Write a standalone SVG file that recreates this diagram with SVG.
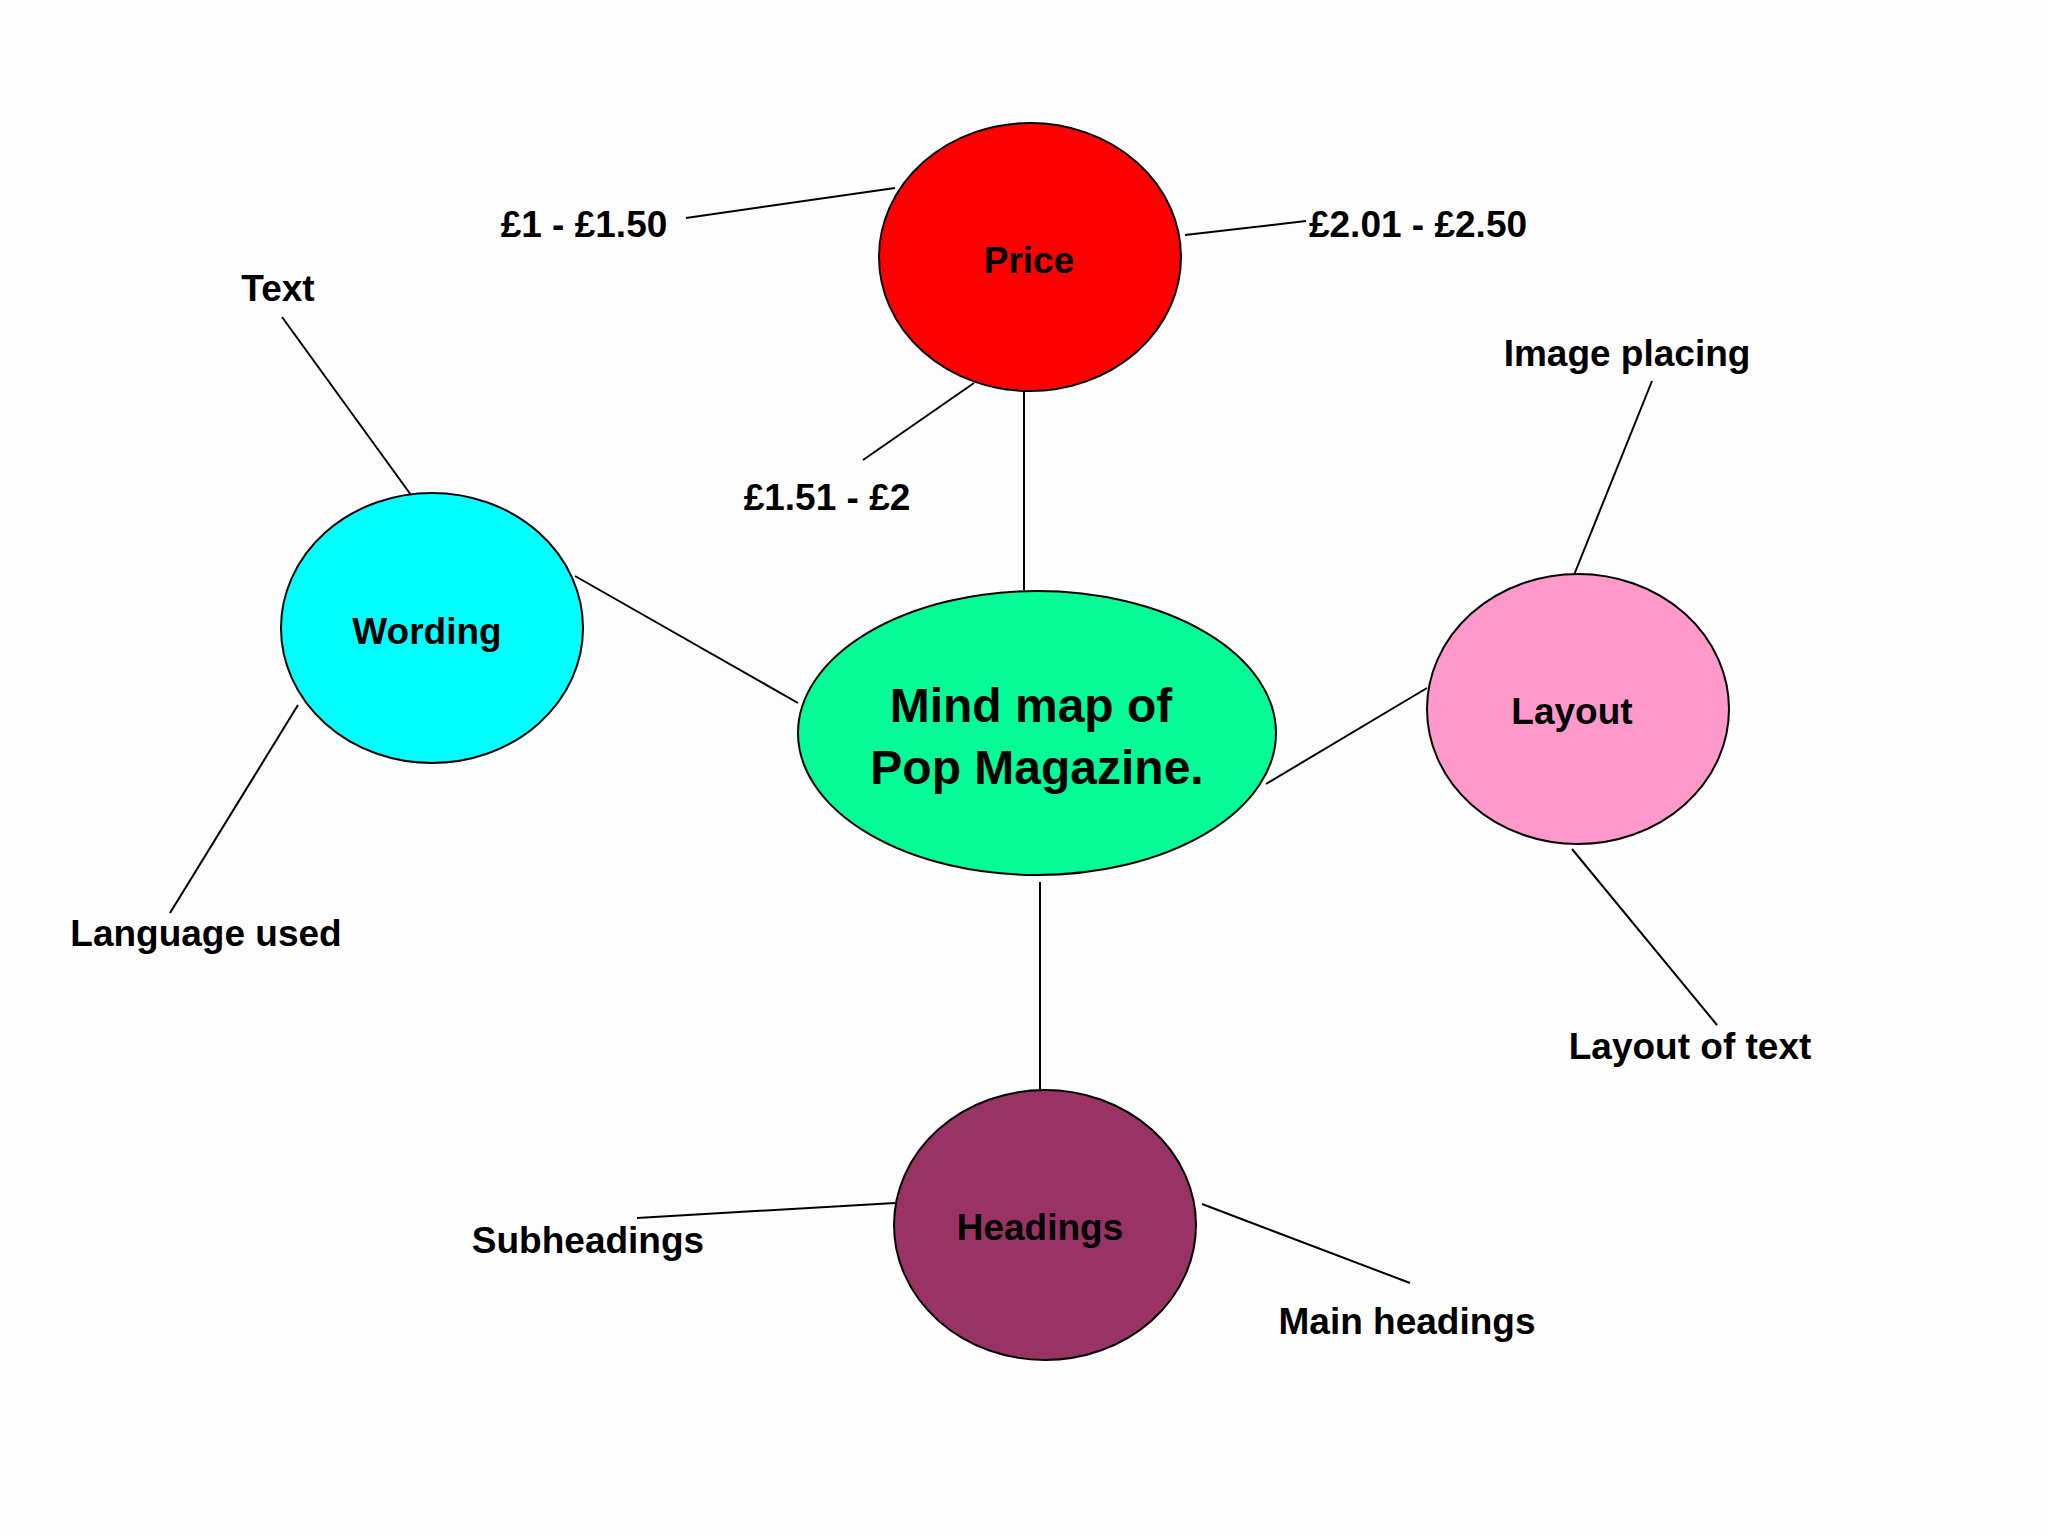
<svg xmlns="http://www.w3.org/2000/svg" width="2048" height="1536" viewBox="0 0 2048 1536">
<style>
text{font-family:"Liberation Sans",Arial,sans-serif;font-weight:bold;fill:#000;text-anchor:middle;font-size:37px}
.n{stroke:#000;stroke-width:2}
.c line{stroke:#000;stroke-width:2}
.big{font-size:48px}
</style>
<rect width="2048" height="1536" fill="#fdfdfd"/>
<g class="c" id="connectors">
<line x1="686" y1="218" x2="895" y2="188"/>
<line x1="1185" y1="235" x2="1306" y2="221"/>
<line x1="863" y1="460" x2="974" y2="383"/>
<line x1="1024" y1="392" x2="1024" y2="590"/>
<line x1="282" y1="317" x2="411" y2="495"/>
<line x1="298" y1="705" x2="170" y2="913"/>
<line x1="575" y1="576" x2="798" y2="703"/>
<line x1="1652" y1="381" x2="1574" y2="575"/>
<line x1="1427" y1="688" x2="1266" y2="784"/>
<line x1="1572" y1="849" x2="1717" y2="1025"/>
<line x1="1040" y1="882" x2="1040" y2="1089"/>
<line x1="895" y1="1203" x2="637" y2="1218"/>
<line x1="1202" y1="1204" x2="1410" y2="1283"/>
</g>
<g id="price"><ellipse class="n" cx="1030" cy="257" rx="151" ry="134" fill="#ff0000"/><text x="1029" y="273">Price</text></g>
<g id="center"><ellipse class="n" cx="1037" cy="733" rx="239" ry="142" fill="#04fb96"/><text class="big" x="1031" y="722">Mind map of</text><text class="big" x="1037" y="784">Pop Magazine.</text></g>
<g id="wording"><ellipse class="n" cx="432" cy="628" rx="151" ry="135" fill="#00ffff"/><text x="427" y="644">Wording</text></g>
<g id="layout"><ellipse class="n" cx="1578" cy="709" rx="151" ry="135" fill="#ff99cc"/><text x="1572" y="724">Layout</text></g>
<g id="headings"><ellipse class="n" cx="1045" cy="1225" rx="151" ry="135" fill="#993366"/><text x="1040" y="1240">Headings</text></g>
<g id="labels">
<text x="584" y="237">£1 - £1.50</text>
<text x="1418" y="237">£2.01 - £2.50</text>
<text x="827" y="510">£1.51 - £2</text>
<text x="278" y="301">Text</text>
<text x="1627" y="366">Image placing</text>
<text x="206" y="946">Language used</text>
<text x="1690" y="1059">Layout of text</text>
<text x="588" y="1253">Subheadings</text>
<text x="1407" y="1334">Main headings</text>
</g>
</svg>
